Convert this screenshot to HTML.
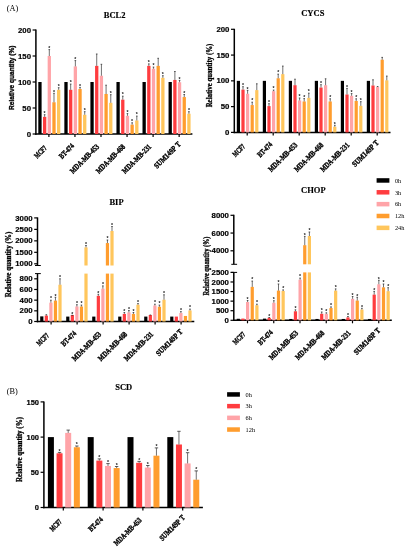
<!DOCTYPE html>
<html><head><meta charset="utf-8"><style>
html,body{margin:0;padding:0;background:#fff;width:407px;height:550px;overflow:hidden}
svg{display:block;will-change:transform}
.tk{font-family:"Liberation Sans",sans-serif;font-weight:bold;fill:#000;stroke:#000;stroke-width:0.2px}
.ti{font-family:"Liberation Serif",serif;font-weight:bold;font-size:8.5px;fill:#000;stroke:#000;stroke-width:0.15px}
.xl{font-family:"Liberation Serif",serif;font-weight:bold;fill:#000;stroke:#000;stroke-width:0.4px}
.yl{font-family:"Liberation Sans",sans-serif;font-weight:bold;fill:#000;stroke:#000;stroke-width:0.3px}
.yls{font-family:"Liberation Serif",serif;font-weight:bold;fill:#000;stroke:#000;stroke-width:0.3px}
.lg{font-family:"Liberation Serif",serif;font-size:6.3px;fill:#000}
.pl{font-family:"Liberation Serif",serif;font-size:8.3px;fill:#000}
.st{font-family:"Liberation Sans",sans-serif;font-size:5.2px;font-weight:bold;fill:#111}
</style></head><body>
<svg width="407" height="550" viewBox="0 0 407 550">
<line x1="35.9" y1="29.5" x2="35.9" y2="134.75" stroke="#000" stroke-width="1.5"/>
<line x1="35.15" y1="134.0" x2="192.4" y2="134.0" stroke="#000" stroke-width="1.5"/>
<line x1="32.6" y1="134.0" x2="35.9" y2="134.0" stroke="#000" stroke-width="1.2"/>
<text transform="translate(31.00,136.60)" text-anchor="end" class="tk" style="font-size:7.8px">0</text>
<line x1="32.6" y1="108.0" x2="35.9" y2="108.0" stroke="#000" stroke-width="1.2"/>
<text transform="translate(31.00,110.60)" text-anchor="end" class="tk" style="font-size:7.8px">50</text>
<line x1="32.6" y1="82.0" x2="35.9" y2="82.0" stroke="#000" stroke-width="1.2"/>
<text transform="translate(31.00,84.60)" text-anchor="end" class="tk" style="font-size:7.8px">100</text>
<line x1="32.6" y1="56.0" x2="35.9" y2="56.0" stroke="#000" stroke-width="1.2"/>
<text transform="translate(31.00,58.60)" text-anchor="end" class="tk" style="font-size:7.8px">150</text>
<line x1="32.6" y1="30.0" x2="35.9" y2="30.0" stroke="#000" stroke-width="1.2"/>
<text transform="translate(31.00,32.60)" text-anchor="end" class="tk" style="font-size:7.8px">200</text>
<line x1="48.9" y1="134.0" x2="48.9" y2="137.0" stroke="#000" stroke-width="1.2"/>
<rect x="38.30" y="82.00" width="3.3" height="52.00" fill="#000000"/>
<rect x="42.98" y="116.84" width="3.3" height="17.16" fill="#FF3C3F"/>
<line x1="44.63" y1="116.84" x2="44.63" y2="114.70" stroke="#333" stroke-width="0.7"/>
<line x1="43.83" y1="114.70" x2="45.43" y2="114.70" stroke="#333" stroke-width="0.8"/>
<text x="44.63" y="114.90" text-anchor="middle" class="st">*</text>
<rect x="47.66" y="56.00" width="3.3" height="78.00" fill="#FFA4A8"/>
<line x1="49.31" y1="56.00" x2="49.31" y2="49.60" stroke="#333" stroke-width="0.7"/>
<line x1="48.51" y1="49.60" x2="50.11" y2="49.60" stroke="#333" stroke-width="0.8"/>
<text x="49.31" y="49.80" text-anchor="middle" class="st">*</text>
<rect x="52.34" y="102.28" width="3.3" height="31.72" fill="#FF9D2E"/>
<line x1="53.99" y1="102.28" x2="53.99" y2="93.30" stroke="#333" stroke-width="0.7"/>
<line x1="53.19" y1="93.30" x2="54.79" y2="93.30" stroke="#333" stroke-width="0.8"/>
<text x="53.99" y="93.50" text-anchor="middle" class="st">*</text>
<rect x="57.02" y="89.80" width="3.3" height="44.20" fill="#FFC65C"/>
<line x1="58.67" y1="89.80" x2="58.67" y2="87.70" stroke="#333" stroke-width="0.7"/>
<line x1="57.87" y1="87.70" x2="59.47" y2="87.70" stroke="#333" stroke-width="0.8"/>
<text x="58.67" y="87.90" text-anchor="middle" class="st">*</text>
<line x1="74.95" y1="134.0" x2="74.95" y2="137.0" stroke="#000" stroke-width="1.2"/>
<rect x="64.35" y="82.00" width="3.3" height="52.00" fill="#000000"/>
<rect x="69.03" y="89.80" width="3.3" height="44.20" fill="#FF3C3F"/>
<line x1="70.68" y1="89.80" x2="70.68" y2="84.10" stroke="#333" stroke-width="0.7"/>
<line x1="69.88" y1="84.10" x2="71.48" y2="84.10" stroke="#333" stroke-width="0.8"/>
<text x="70.68" y="84.30" text-anchor="middle" class="st">*</text>
<rect x="73.71" y="66.40" width="3.3" height="67.60" fill="#FFA4A8"/>
<line x1="75.36" y1="66.40" x2="75.36" y2="60.60" stroke="#333" stroke-width="0.7"/>
<line x1="74.56" y1="60.60" x2="76.16" y2="60.60" stroke="#333" stroke-width="0.8"/>
<text x="75.36" y="60.80" text-anchor="middle" class="st">*</text>
<rect x="78.39" y="89.02" width="3.3" height="44.98" fill="#FF9D2E"/>
<line x1="80.04" y1="89.02" x2="80.04" y2="87.40" stroke="#333" stroke-width="0.7"/>
<line x1="79.24" y1="87.40" x2="80.84" y2="87.40" stroke="#333" stroke-width="0.8"/>
<text x="80.04" y="87.60" text-anchor="middle" class="st">*</text>
<rect x="83.07" y="114.76" width="3.3" height="19.24" fill="#FFC65C"/>
<line x1="84.72" y1="114.76" x2="84.72" y2="111.70" stroke="#333" stroke-width="0.7"/>
<line x1="83.92" y1="111.70" x2="85.52" y2="111.70" stroke="#333" stroke-width="0.8"/>
<text x="84.72" y="111.90" text-anchor="middle" class="st">*</text>
<line x1="101.0" y1="134.0" x2="101.0" y2="137.0" stroke="#000" stroke-width="1.2"/>
<rect x="90.40" y="82.00" width="3.3" height="52.00" fill="#000000"/>
<rect x="95.08" y="65.88" width="3.3" height="68.12" fill="#FF3C3F"/>
<line x1="96.73" y1="65.88" x2="96.73" y2="54.00" stroke="#333" stroke-width="0.7"/>
<line x1="95.93" y1="54.00" x2="97.53" y2="54.00" stroke="#333" stroke-width="0.8"/>
<rect x="99.76" y="75.76" width="3.3" height="58.24" fill="#FFA4A8"/>
<line x1="101.41" y1="75.76" x2="101.41" y2="64.30" stroke="#333" stroke-width="0.7"/>
<line x1="100.61" y1="64.30" x2="102.21" y2="64.30" stroke="#333" stroke-width="0.8"/>
<rect x="104.44" y="93.96" width="3.3" height="40.04" fill="#FF9D2E"/>
<line x1="106.09" y1="93.96" x2="106.09" y2="85.20" stroke="#333" stroke-width="0.7"/>
<line x1="105.29" y1="85.20" x2="106.89" y2="85.20" stroke="#333" stroke-width="0.8"/>
<rect x="109.12" y="102.80" width="3.3" height="31.20" fill="#FFC65C"/>
<line x1="110.77" y1="102.80" x2="110.77" y2="94.70" stroke="#333" stroke-width="0.7"/>
<line x1="109.97" y1="94.70" x2="111.57" y2="94.70" stroke="#333" stroke-width="0.8"/>
<text x="110.77" y="94.90" text-anchor="middle" class="st">*</text>
<line x1="127.05000000000001" y1="134.0" x2="127.05000000000001" y2="137.0" stroke="#000" stroke-width="1.2"/>
<rect x="116.45" y="82.00" width="3.3" height="52.00" fill="#000000"/>
<rect x="121.13" y="99.68" width="3.3" height="34.32" fill="#FF3C3F"/>
<line x1="122.78" y1="99.68" x2="122.78" y2="96.20" stroke="#333" stroke-width="0.7"/>
<line x1="121.98" y1="96.20" x2="123.58" y2="96.20" stroke="#333" stroke-width="0.8"/>
<text x="122.78" y="96.40" text-anchor="middle" class="st">*</text>
<rect x="125.81" y="115.80" width="3.3" height="18.20" fill="#FFA4A8"/>
<line x1="127.46" y1="115.80" x2="127.46" y2="113.60" stroke="#333" stroke-width="0.7"/>
<line x1="126.66" y1="113.60" x2="128.26" y2="113.60" stroke="#333" stroke-width="0.8"/>
<text x="127.46" y="113.80" text-anchor="middle" class="st">*</text>
<rect x="130.49" y="124.64" width="3.3" height="9.36" fill="#FF9D2E"/>
<line x1="132.14" y1="124.64" x2="132.14" y2="122.80" stroke="#333" stroke-width="0.7"/>
<line x1="131.34" y1="122.80" x2="132.94" y2="122.80" stroke="#333" stroke-width="0.8"/>
<text x="132.14" y="123.00" text-anchor="middle" class="st">*</text>
<rect x="135.17" y="120.48" width="3.3" height="13.52" fill="#FFC65C"/>
<line x1="136.82" y1="120.48" x2="136.82" y2="116.10" stroke="#333" stroke-width="0.7"/>
<line x1="136.02" y1="116.10" x2="137.62" y2="116.10" stroke="#333" stroke-width="0.8"/>
<text x="136.82" y="116.30" text-anchor="middle" class="st">*</text>
<line x1="153.1" y1="134.0" x2="153.1" y2="137.0" stroke="#000" stroke-width="1.2"/>
<rect x="142.50" y="82.00" width="3.3" height="52.00" fill="#000000"/>
<rect x="147.18" y="65.88" width="3.3" height="68.12" fill="#FF3C3F"/>
<line x1="148.83" y1="65.88" x2="148.83" y2="63.90" stroke="#333" stroke-width="0.7"/>
<line x1="148.03" y1="63.90" x2="149.63" y2="63.90" stroke="#333" stroke-width="0.8"/>
<text x="148.83" y="64.10" text-anchor="middle" class="st">*</text>
<rect x="151.86" y="68.69" width="3.3" height="65.31" fill="#FFA4A8"/>
<line x1="153.51" y1="68.69" x2="153.51" y2="67.10" stroke="#333" stroke-width="0.7"/>
<line x1="152.71" y1="67.10" x2="154.31" y2="67.10" stroke="#333" stroke-width="0.8"/>
<text x="153.51" y="67.30" text-anchor="middle" class="st">*</text>
<rect x="156.54" y="65.88" width="3.3" height="68.12" fill="#FF9D2E"/>
<line x1="158.19" y1="65.88" x2="158.19" y2="58.30" stroke="#333" stroke-width="0.7"/>
<line x1="157.39" y1="58.30" x2="158.99" y2="58.30" stroke="#333" stroke-width="0.8"/>
<rect x="161.22" y="77.84" width="3.3" height="56.16" fill="#FFC65C"/>
<line x1="162.87" y1="77.84" x2="162.87" y2="75.70" stroke="#333" stroke-width="0.7"/>
<line x1="162.07" y1="75.70" x2="163.67" y2="75.70" stroke="#333" stroke-width="0.8"/>
<text x="162.87" y="75.90" text-anchor="middle" class="st">*</text>
<line x1="179.15" y1="134.0" x2="179.15" y2="137.0" stroke="#000" stroke-width="1.2"/>
<rect x="168.55" y="82.00" width="3.3" height="52.00" fill="#000000"/>
<rect x="173.23" y="79.92" width="3.3" height="54.08" fill="#FF3C3F"/>
<line x1="174.88" y1="79.92" x2="174.88" y2="71.50" stroke="#333" stroke-width="0.7"/>
<line x1="174.08" y1="71.50" x2="175.68" y2="71.50" stroke="#333" stroke-width="0.8"/>
<rect x="177.91" y="82.26" width="3.3" height="51.74" fill="#FFA4A8"/>
<line x1="179.56" y1="82.26" x2="179.56" y2="80.40" stroke="#333" stroke-width="0.7"/>
<line x1="178.76" y1="80.40" x2="180.36" y2="80.40" stroke="#333" stroke-width="0.8"/>
<text x="179.56" y="80.60" text-anchor="middle" class="st">*</text>
<rect x="182.59" y="97.08" width="3.3" height="36.92" fill="#FF9D2E"/>
<line x1="184.24" y1="97.08" x2="184.24" y2="94.50" stroke="#333" stroke-width="0.7"/>
<line x1="183.44" y1="94.50" x2="185.04" y2="94.50" stroke="#333" stroke-width="0.8"/>
<text x="184.24" y="94.70" text-anchor="middle" class="st">*</text>
<rect x="187.27" y="113.72" width="3.3" height="20.28" fill="#FFC65C"/>
<line x1="188.92" y1="113.72" x2="188.92" y2="111.70" stroke="#333" stroke-width="0.7"/>
<line x1="188.12" y1="111.70" x2="189.72" y2="111.70" stroke="#333" stroke-width="0.8"/>
<text x="188.92" y="111.90" text-anchor="middle" class="st">*</text>
<text x="114.6" y="17.7" text-anchor="middle" class="ti">BCL2</text>
<text transform="translate(13.9,77.7) rotate(-90)" text-anchor="middle" class="yl" style="font-size:6.6px" textLength="64.5" lengthAdjust="spacingAndGlyphs">Relative quantity (%)</text>
<line x1="234.3" y1="28.80000000000001" x2="234.3" y2="133.15" stroke="#000" stroke-width="1.5"/>
<line x1="233.55" y1="132.4" x2="390.5" y2="132.4" stroke="#000" stroke-width="1.5"/>
<line x1="231.0" y1="132.4" x2="234.3" y2="132.4" stroke="#000" stroke-width="1.2"/>
<text transform="translate(229.40,135.00)" text-anchor="end" class="tk" style="font-size:7.8px">0</text>
<line x1="231.0" y1="106.625" x2="234.3" y2="106.625" stroke="#000" stroke-width="1.2"/>
<text transform="translate(229.40,109.22)" text-anchor="end" class="tk" style="font-size:7.8px">50</text>
<line x1="231.0" y1="80.85000000000001" x2="234.3" y2="80.85000000000001" stroke="#000" stroke-width="1.2"/>
<text transform="translate(229.40,83.45)" text-anchor="end" class="tk" style="font-size:7.8px">100</text>
<line x1="231.0" y1="55.075" x2="234.3" y2="55.075" stroke="#000" stroke-width="1.2"/>
<text transform="translate(229.40,57.68)" text-anchor="end" class="tk" style="font-size:7.8px">150</text>
<line x1="231.0" y1="29.30000000000001" x2="234.3" y2="29.30000000000001" stroke="#000" stroke-width="1.2"/>
<text transform="translate(229.40,31.90)" text-anchor="end" class="tk" style="font-size:7.8px">200</text>
<line x1="247.2" y1="132.4" x2="247.2" y2="135.4" stroke="#000" stroke-width="1.2"/>
<rect x="236.80" y="80.85" width="3.2" height="51.55" fill="#000000"/>
<rect x="241.40" y="89.61" width="3.2" height="42.79" fill="#FF3C3F"/>
<line x1="243.00" y1="89.61" x2="243.00" y2="86.70" stroke="#333" stroke-width="0.7"/>
<line x1="242.20" y1="86.70" x2="243.80" y2="86.70" stroke="#333" stroke-width="0.8"/>
<text x="243.00" y="86.90" text-anchor="middle" class="st">*</text>
<rect x="246.00" y="93.74" width="3.2" height="38.66" fill="#FFA4A8"/>
<line x1="247.60" y1="93.74" x2="247.60" y2="90.40" stroke="#333" stroke-width="0.7"/>
<line x1="246.80" y1="90.40" x2="248.40" y2="90.40" stroke="#333" stroke-width="0.8"/>
<text x="247.60" y="90.60" text-anchor="middle" class="st">*</text>
<rect x="250.60" y="105.08" width="3.2" height="27.32" fill="#FF9D2E"/>
<line x1="252.20" y1="105.08" x2="252.20" y2="102.20" stroke="#333" stroke-width="0.7"/>
<line x1="251.40" y1="102.20" x2="253.00" y2="102.20" stroke="#333" stroke-width="0.8"/>
<text x="252.20" y="102.40" text-anchor="middle" class="st">*</text>
<rect x="255.20" y="90.13" width="3.2" height="42.27" fill="#FFC65C"/>
<line x1="256.80" y1="90.13" x2="256.80" y2="83.80" stroke="#333" stroke-width="0.7"/>
<line x1="256.00" y1="83.80" x2="257.60" y2="83.80" stroke="#333" stroke-width="0.8"/>
<line x1="273.2" y1="132.4" x2="273.2" y2="135.4" stroke="#000" stroke-width="1.2"/>
<rect x="262.80" y="80.85" width="3.2" height="51.55" fill="#000000"/>
<rect x="267.40" y="106.11" width="3.2" height="26.29" fill="#FF3C3F"/>
<line x1="269.00" y1="106.11" x2="269.00" y2="103.70" stroke="#333" stroke-width="0.7"/>
<line x1="268.20" y1="103.70" x2="269.80" y2="103.70" stroke="#333" stroke-width="0.8"/>
<text x="269.00" y="103.90" text-anchor="middle" class="st">*</text>
<rect x="272.00" y="91.16" width="3.2" height="41.24" fill="#FFA4A8"/>
<line x1="273.60" y1="91.16" x2="273.60" y2="90.10" stroke="#333" stroke-width="0.7"/>
<line x1="272.80" y1="90.10" x2="274.40" y2="90.10" stroke="#333" stroke-width="0.8"/>
<text x="273.60" y="90.30" text-anchor="middle" class="st">*</text>
<rect x="276.60" y="78.27" width="3.2" height="54.13" fill="#FF9D2E"/>
<line x1="278.20" y1="78.27" x2="278.20" y2="74.20" stroke="#333" stroke-width="0.7"/>
<line x1="277.40" y1="74.20" x2="279.00" y2="74.20" stroke="#333" stroke-width="0.8"/>
<text x="278.20" y="74.40" text-anchor="middle" class="st">*</text>
<rect x="281.20" y="74.15" width="3.2" height="58.25" fill="#FFC65C"/>
<line x1="282.80" y1="74.15" x2="282.80" y2="66.10" stroke="#333" stroke-width="0.7"/>
<line x1="282.00" y1="66.10" x2="283.60" y2="66.10" stroke="#333" stroke-width="0.8"/>
<line x1="299.2" y1="132.4" x2="299.2" y2="135.4" stroke="#000" stroke-width="1.2"/>
<rect x="288.80" y="80.85" width="3.2" height="51.55" fill="#000000"/>
<rect x="293.40" y="85.23" width="3.2" height="47.17" fill="#FF3C3F"/>
<line x1="295.00" y1="85.23" x2="295.00" y2="79.20" stroke="#333" stroke-width="0.7"/>
<line x1="294.20" y1="79.20" x2="295.80" y2="79.20" stroke="#333" stroke-width="0.8"/>
<rect x="298.00" y="100.44" width="3.2" height="31.96" fill="#FFA4A8"/>
<line x1="299.60" y1="100.44" x2="299.60" y2="98.00" stroke="#333" stroke-width="0.7"/>
<line x1="298.80" y1="98.00" x2="300.40" y2="98.00" stroke="#333" stroke-width="0.8"/>
<text x="299.60" y="98.20" text-anchor="middle" class="st">*</text>
<rect x="302.60" y="101.47" width="3.2" height="30.93" fill="#FF9D2E"/>
<line x1="304.20" y1="101.47" x2="304.20" y2="98.60" stroke="#333" stroke-width="0.7"/>
<line x1="303.40" y1="98.60" x2="305.00" y2="98.60" stroke="#333" stroke-width="0.8"/>
<text x="304.20" y="98.80" text-anchor="middle" class="st">*</text>
<rect x="307.20" y="97.86" width="3.2" height="34.54" fill="#FFC65C"/>
<line x1="308.80" y1="97.86" x2="308.80" y2="93.20" stroke="#333" stroke-width="0.7"/>
<line x1="308.00" y1="93.20" x2="309.60" y2="93.20" stroke="#333" stroke-width="0.8"/>
<text x="308.80" y="93.40" text-anchor="middle" class="st">*</text>
<line x1="325.2" y1="132.4" x2="325.2" y2="135.4" stroke="#000" stroke-width="1.2"/>
<rect x="314.80" y="80.85" width="3.2" height="51.55" fill="#000000"/>
<rect x="319.40" y="87.55" width="3.2" height="44.85" fill="#FF3C3F"/>
<line x1="321.00" y1="87.55" x2="321.00" y2="84.70" stroke="#333" stroke-width="0.7"/>
<line x1="320.20" y1="84.70" x2="321.80" y2="84.70" stroke="#333" stroke-width="0.8"/>
<text x="321.00" y="84.90" text-anchor="middle" class="st">*</text>
<rect x="324.00" y="85.23" width="3.2" height="47.17" fill="#FFA4A8"/>
<line x1="325.60" y1="85.23" x2="325.60" y2="78.80" stroke="#333" stroke-width="0.7"/>
<line x1="324.80" y1="78.80" x2="326.40" y2="78.80" stroke="#333" stroke-width="0.8"/>
<rect x="328.60" y="101.47" width="3.2" height="30.93" fill="#FF9D2E"/>
<line x1="330.20" y1="101.47" x2="330.20" y2="98.80" stroke="#333" stroke-width="0.7"/>
<line x1="329.40" y1="98.80" x2="331.00" y2="98.80" stroke="#333" stroke-width="0.8"/>
<text x="330.20" y="99.00" text-anchor="middle" class="st">*</text>
<rect x="333.20" y="126.73" width="3.2" height="5.67" fill="#FFC65C"/>
<line x1="334.80" y1="126.73" x2="334.80" y2="125.30" stroke="#333" stroke-width="0.7"/>
<line x1="334.00" y1="125.30" x2="335.60" y2="125.30" stroke="#333" stroke-width="0.8"/>
<text x="334.80" y="125.50" text-anchor="middle" class="st">*</text>
<line x1="351.2" y1="132.4" x2="351.2" y2="135.4" stroke="#000" stroke-width="1.2"/>
<rect x="340.80" y="80.85" width="3.2" height="51.55" fill="#000000"/>
<rect x="345.40" y="94.51" width="3.2" height="37.89" fill="#FF3C3F"/>
<line x1="347.00" y1="94.51" x2="347.00" y2="88.40" stroke="#333" stroke-width="0.7"/>
<line x1="346.20" y1="88.40" x2="347.80" y2="88.40" stroke="#333" stroke-width="0.8"/>
<text x="347.00" y="88.60" text-anchor="middle" class="st">*</text>
<rect x="350.00" y="95.80" width="3.2" height="36.60" fill="#FFA4A8"/>
<line x1="351.60" y1="95.80" x2="351.60" y2="93.60" stroke="#333" stroke-width="0.7"/>
<line x1="350.80" y1="93.60" x2="352.40" y2="93.60" stroke="#333" stroke-width="0.8"/>
<text x="351.60" y="93.80" text-anchor="middle" class="st">*</text>
<rect x="354.60" y="100.95" width="3.2" height="31.45" fill="#FF9D2E"/>
<line x1="356.20" y1="100.95" x2="356.20" y2="98.80" stroke="#333" stroke-width="0.7"/>
<line x1="355.40" y1="98.80" x2="357.00" y2="98.80" stroke="#333" stroke-width="0.8"/>
<text x="356.20" y="99.00" text-anchor="middle" class="st">*</text>
<rect x="359.20" y="105.85" width="3.2" height="26.55" fill="#FFC65C"/>
<line x1="360.80" y1="105.85" x2="360.80" y2="101.70" stroke="#333" stroke-width="0.7"/>
<line x1="360.00" y1="101.70" x2="361.60" y2="101.70" stroke="#333" stroke-width="0.8"/>
<text x="360.80" y="101.90" text-anchor="middle" class="st">*</text>
<line x1="377.2" y1="132.4" x2="377.2" y2="135.4" stroke="#000" stroke-width="1.2"/>
<rect x="366.80" y="80.85" width="3.2" height="51.55" fill="#000000"/>
<rect x="371.40" y="85.49" width="3.2" height="46.91" fill="#FF3C3F"/>
<line x1="373.00" y1="85.49" x2="373.00" y2="79.80" stroke="#333" stroke-width="0.7"/>
<line x1="372.20" y1="79.80" x2="373.80" y2="79.80" stroke="#333" stroke-width="0.8"/>
<rect x="376.00" y="87.04" width="3.2" height="45.36" fill="#FFA4A8"/>
<line x1="377.60" y1="87.04" x2="377.60" y2="86.50" stroke="#333" stroke-width="0.7"/>
<line x1="376.80" y1="86.50" x2="378.40" y2="86.50" stroke="#333" stroke-width="0.8"/>
<rect x="380.60" y="59.71" width="3.2" height="72.69" fill="#FF9D2E"/>
<line x1="382.20" y1="59.71" x2="382.20" y2="57.40" stroke="#333" stroke-width="0.7"/>
<line x1="381.40" y1="57.40" x2="383.00" y2="57.40" stroke="#333" stroke-width="0.8"/>
<rect x="385.20" y="80.33" width="3.2" height="52.07" fill="#FFC65C"/>
<line x1="386.80" y1="80.33" x2="386.80" y2="76.10" stroke="#333" stroke-width="0.7"/>
<line x1="386.00" y1="76.10" x2="387.60" y2="76.10" stroke="#333" stroke-width="0.8"/>
<text x="312.8" y="16.2" text-anchor="middle" class="ti">CYCS</text>
<text transform="translate(211.5,75.5) rotate(-90)" text-anchor="middle" class="yls" style="font-size:7.3px" textLength="63.7" lengthAdjust="spacingAndGlyphs">Relative quantity (%)</text>
<line x1="37.5" y1="217.4" x2="37.5" y2="265.5" stroke="#000" stroke-width="1.5"/>
<line x1="35.0" y1="265.5" x2="40.8" y2="265.5" stroke="#000" stroke-width="1"/>
<line x1="37.5" y1="273.6" x2="37.5" y2="322.25" stroke="#000" stroke-width="1.5"/>
<line x1="35.0" y1="273.6" x2="40.8" y2="273.6" stroke="#000" stroke-width="1"/>
<line x1="36.75" y1="321.5" x2="194.3" y2="321.5" stroke="#000" stroke-width="1.5"/>
<line x1="34.2" y1="321.5" x2="37.5" y2="321.5" stroke="#000" stroke-width="1.2"/>
<text transform="translate(32.60,324.10)" text-anchor="end" class="tk" style="font-size:7.8px">0</text>
<line x1="34.2" y1="310.825" x2="37.5" y2="310.825" stroke="#000" stroke-width="1.2"/>
<text transform="translate(32.60,313.43)" text-anchor="end" class="tk" style="font-size:7.8px">200</text>
<line x1="34.2" y1="300.15" x2="37.5" y2="300.15" stroke="#000" stroke-width="1.2"/>
<text transform="translate(32.60,302.75)" text-anchor="end" class="tk" style="font-size:7.8px">400</text>
<line x1="34.2" y1="289.475" x2="37.5" y2="289.475" stroke="#000" stroke-width="1.2"/>
<text transform="translate(32.60,292.08)" text-anchor="end" class="tk" style="font-size:7.8px">600</text>
<line x1="34.2" y1="278.8" x2="37.5" y2="278.8" stroke="#000" stroke-width="1.2"/>
<text transform="translate(32.60,281.40)" text-anchor="end" class="tk" style="font-size:7.8px">800</text>
<line x1="34.2" y1="263.8" x2="37.5" y2="263.8" stroke="#000" stroke-width="1.2"/>
<text transform="translate(32.60,266.40)" text-anchor="end" class="tk" style="font-size:7.8px">1000</text>
<line x1="34.2" y1="252.32500000000002" x2="37.5" y2="252.32500000000002" stroke="#000" stroke-width="1.2"/>
<text transform="translate(32.60,254.93)" text-anchor="end" class="tk" style="font-size:7.8px">1500</text>
<line x1="34.2" y1="240.85000000000002" x2="37.5" y2="240.85000000000002" stroke="#000" stroke-width="1.2"/>
<text transform="translate(32.60,243.45)" text-anchor="end" class="tk" style="font-size:7.8px">2000</text>
<line x1="34.2" y1="229.375" x2="37.5" y2="229.375" stroke="#000" stroke-width="1.2"/>
<text transform="translate(32.60,231.97)" text-anchor="end" class="tk" style="font-size:7.8px">2500</text>
<line x1="34.2" y1="217.9" x2="37.5" y2="217.9" stroke="#000" stroke-width="1.2"/>
<text transform="translate(32.60,220.50)" text-anchor="end" class="tk" style="font-size:7.8px">3000</text>
<line x1="51.1" y1="321.5" x2="51.1" y2="324.5" stroke="#000" stroke-width="1.2"/>
<rect x="40.20" y="316.38" width="3.2" height="5.12" fill="#000000"/>
<rect x="44.75" y="315.58" width="3.2" height="5.92" fill="#FF3C3F"/>
<line x1="46.35" y1="315.58" x2="46.35" y2="314.70" stroke="#333" stroke-width="0.7"/>
<line x1="45.55" y1="314.70" x2="47.15" y2="314.70" stroke="#333" stroke-width="0.8"/>
<rect x="49.30" y="302.66" width="3.2" height="18.84" fill="#FFA4A8"/>
<line x1="50.90" y1="302.66" x2="50.90" y2="300.20" stroke="#333" stroke-width="0.7"/>
<line x1="50.10" y1="300.20" x2="51.70" y2="300.20" stroke="#333" stroke-width="0.8"/>
<text x="50.90" y="300.40" text-anchor="middle" class="st">*</text>
<rect x="53.85" y="300.58" width="3.2" height="20.92" fill="#FF9D2E"/>
<line x1="55.45" y1="300.58" x2="55.45" y2="297.30" stroke="#333" stroke-width="0.7"/>
<line x1="54.65" y1="297.30" x2="56.25" y2="297.30" stroke="#333" stroke-width="0.8"/>
<text x="55.45" y="297.50" text-anchor="middle" class="st">*</text>
<rect x="58.40" y="284.72" width="3.2" height="36.78" fill="#FFC65C"/>
<line x1="60.00" y1="284.72" x2="60.00" y2="278.80" stroke="#333" stroke-width="0.7"/>
<line x1="59.20" y1="278.80" x2="60.80" y2="278.80" stroke="#333" stroke-width="0.8"/>
<text x="60.00" y="279.00" text-anchor="middle" class="st">*</text>
<line x1="77.1" y1="321.5" x2="77.1" y2="324.5" stroke="#000" stroke-width="1.2"/>
<rect x="66.20" y="316.59" width="3.2" height="4.91" fill="#000000"/>
<rect x="70.75" y="314.99" width="3.2" height="6.51" fill="#FF3C3F"/>
<line x1="72.35" y1="314.99" x2="72.35" y2="315.30" stroke="#333" stroke-width="0.7"/>
<line x1="71.55" y1="315.30" x2="73.15" y2="315.30" stroke="#333" stroke-width="0.8"/>
<text x="72.35" y="315.50" text-anchor="middle" class="st">*</text>
<rect x="75.30" y="306.50" width="3.2" height="15.00" fill="#FFA4A8"/>
<line x1="76.90" y1="306.50" x2="76.90" y2="304.70" stroke="#333" stroke-width="0.7"/>
<line x1="76.10" y1="304.70" x2="77.70" y2="304.70" stroke="#333" stroke-width="0.8"/>
<text x="76.90" y="304.90" text-anchor="middle" class="st">*</text>
<rect x="79.85" y="306.50" width="3.2" height="15.00" fill="#FF9D2E"/>
<line x1="81.45" y1="306.50" x2="81.45" y2="305.10" stroke="#333" stroke-width="0.7"/>
<line x1="80.65" y1="305.10" x2="82.25" y2="305.10" stroke="#333" stroke-width="0.8"/>
<text x="81.45" y="305.30" text-anchor="middle" class="st">*</text>
<rect x="84.40" y="247.39" width="3.2" height="18.11" fill="#FFC65C"/>
<rect x="84.40" y="273.60" width="3.2" height="47.90" fill="#FFC65C"/>
<line x1="86.00" y1="247.39" x2="86.00" y2="245.50" stroke="#333" stroke-width="0.7"/>
<line x1="85.20" y1="245.50" x2="86.80" y2="245.50" stroke="#333" stroke-width="0.8"/>
<text x="86.00" y="245.70" text-anchor="middle" class="st">*</text>
<line x1="103.1" y1="321.5" x2="103.1" y2="324.5" stroke="#000" stroke-width="1.2"/>
<rect x="92.20" y="316.59" width="3.2" height="4.91" fill="#000000"/>
<rect x="96.75" y="295.83" width="3.2" height="25.67" fill="#FF3C3F"/>
<line x1="98.35" y1="295.83" x2="98.35" y2="294.30" stroke="#333" stroke-width="0.7"/>
<line x1="97.55" y1="294.30" x2="99.15" y2="294.30" stroke="#333" stroke-width="0.8"/>
<text x="98.35" y="294.50" text-anchor="middle" class="st">*</text>
<rect x="101.30" y="288.67" width="3.2" height="32.83" fill="#FFA4A8"/>
<line x1="102.90" y1="288.67" x2="102.90" y2="285.90" stroke="#333" stroke-width="0.7"/>
<line x1="102.10" y1="285.90" x2="103.70" y2="285.90" stroke="#333" stroke-width="0.8"/>
<text x="102.90" y="286.10" text-anchor="middle" class="st">*</text>
<rect x="105.85" y="243.08" width="3.2" height="22.42" fill="#FF9D2E"/>
<rect x="105.85" y="273.60" width="3.2" height="47.90" fill="#FF9D2E"/>
<line x1="107.45" y1="243.08" x2="107.45" y2="240.00" stroke="#333" stroke-width="0.7"/>
<line x1="106.65" y1="240.00" x2="108.25" y2="240.00" stroke="#333" stroke-width="0.8"/>
<text x="107.45" y="240.20" text-anchor="middle" class="st">*</text>
<rect x="110.40" y="230.98" width="3.2" height="34.52" fill="#FFC65C"/>
<rect x="110.40" y="273.60" width="3.2" height="47.90" fill="#FFC65C"/>
<line x1="112.00" y1="230.98" x2="112.00" y2="226.50" stroke="#333" stroke-width="0.7"/>
<line x1="111.20" y1="226.50" x2="112.80" y2="226.50" stroke="#333" stroke-width="0.8"/>
<text x="112.00" y="226.70" text-anchor="middle" class="st">*</text>
<line x1="129.1" y1="321.5" x2="129.1" y2="324.5" stroke="#000" stroke-width="1.2"/>
<rect x="118.20" y="316.59" width="3.2" height="4.91" fill="#000000"/>
<rect x="122.75" y="313.92" width="3.2" height="7.58" fill="#FF3C3F"/>
<line x1="124.35" y1="313.92" x2="124.35" y2="312.50" stroke="#333" stroke-width="0.7"/>
<line x1="123.55" y1="312.50" x2="125.15" y2="312.50" stroke="#333" stroke-width="0.8"/>
<text x="124.35" y="312.70" text-anchor="middle" class="st">*</text>
<rect x="127.30" y="312.43" width="3.2" height="9.07" fill="#FFA4A8"/>
<line x1="128.90" y1="312.43" x2="128.90" y2="310.50" stroke="#333" stroke-width="0.7"/>
<line x1="128.10" y1="310.50" x2="129.70" y2="310.50" stroke="#333" stroke-width="0.8"/>
<text x="128.90" y="310.70" text-anchor="middle" class="st">*</text>
<rect x="131.85" y="313.92" width="3.2" height="7.58" fill="#FF9D2E"/>
<line x1="133.45" y1="313.92" x2="133.45" y2="312.50" stroke="#333" stroke-width="0.7"/>
<line x1="132.65" y1="312.50" x2="134.25" y2="312.50" stroke="#333" stroke-width="0.8"/>
<text x="133.45" y="312.70" text-anchor="middle" class="st">*</text>
<rect x="136.40" y="304.69" width="3.2" height="16.81" fill="#FFC65C"/>
<line x1="138.00" y1="304.69" x2="138.00" y2="303.60" stroke="#333" stroke-width="0.7"/>
<line x1="137.20" y1="303.60" x2="138.80" y2="303.60" stroke="#333" stroke-width="0.8"/>
<text x="138.00" y="303.80" text-anchor="middle" class="st">*</text>
<line x1="155.1" y1="321.5" x2="155.1" y2="324.5" stroke="#000" stroke-width="1.2"/>
<rect x="144.20" y="316.59" width="3.2" height="4.91" fill="#000000"/>
<rect x="148.75" y="314.99" width="3.2" height="6.51" fill="#FF3C3F"/>
<line x1="150.35" y1="314.99" x2="150.35" y2="315.00" stroke="#333" stroke-width="0.7"/>
<line x1="149.55" y1="315.00" x2="151.15" y2="315.00" stroke="#333" stroke-width="0.8"/>
<rect x="153.30" y="305.49" width="3.2" height="16.01" fill="#FFA4A8"/>
<line x1="154.90" y1="305.49" x2="154.90" y2="304.20" stroke="#333" stroke-width="0.7"/>
<line x1="154.10" y1="304.20" x2="155.70" y2="304.20" stroke="#333" stroke-width="0.8"/>
<text x="154.90" y="304.40" text-anchor="middle" class="st">*</text>
<rect x="157.85" y="306.72" width="3.2" height="14.78" fill="#FF9D2E"/>
<line x1="159.45" y1="306.72" x2="159.45" y2="305.10" stroke="#333" stroke-width="0.7"/>
<line x1="158.65" y1="305.10" x2="160.25" y2="305.10" stroke="#333" stroke-width="0.8"/>
<text x="159.45" y="305.30" text-anchor="middle" class="st">*</text>
<rect x="162.40" y="299.72" width="3.2" height="21.78" fill="#FFC65C"/>
<line x1="164.00" y1="299.72" x2="164.00" y2="294.80" stroke="#333" stroke-width="0.7"/>
<line x1="163.20" y1="294.80" x2="164.80" y2="294.80" stroke="#333" stroke-width="0.8"/>
<text x="164.00" y="295.00" text-anchor="middle" class="st">*</text>
<line x1="181.1" y1="321.5" x2="181.1" y2="324.5" stroke="#000" stroke-width="1.2"/>
<rect x="170.20" y="316.59" width="3.2" height="4.91" fill="#000000"/>
<rect x="174.75" y="316.59" width="3.2" height="4.91" fill="#FF3C3F"/>
<rect x="179.30" y="312.96" width="3.2" height="8.54" fill="#FFA4A8"/>
<line x1="180.90" y1="312.96" x2="180.90" y2="311.60" stroke="#333" stroke-width="0.7"/>
<line x1="180.10" y1="311.60" x2="181.70" y2="311.60" stroke="#333" stroke-width="0.8"/>
<text x="180.90" y="311.80" text-anchor="middle" class="st">*</text>
<rect x="183.85" y="315.95" width="3.2" height="5.55" fill="#FF9D2E"/>
<rect x="188.40" y="310.45" width="3.2" height="11.05" fill="#FFC65C"/>
<line x1="190.00" y1="310.45" x2="190.00" y2="309.10" stroke="#333" stroke-width="0.7"/>
<line x1="189.20" y1="309.10" x2="190.80" y2="309.10" stroke="#333" stroke-width="0.8"/>
<text x="190.00" y="309.30" text-anchor="middle" class="st">*</text>
<text x="116.5" y="205.1" text-anchor="middle" class="ti">BIP</text>
<text transform="translate(11.3,264.5) rotate(-90)" text-anchor="middle" class="yls" style="font-size:7.3px" textLength="65.5" lengthAdjust="spacingAndGlyphs">Relative quantity (%)</text>
<line x1="233.8" y1="214.8" x2="233.8" y2="264.3" stroke="#000" stroke-width="1.5"/>
<line x1="231.3" y1="264.3" x2="237.10000000000002" y2="264.3" stroke="#000" stroke-width="1"/>
<line x1="233.8" y1="272.4" x2="233.8" y2="321.05" stroke="#000" stroke-width="1.5"/>
<line x1="231.3" y1="272.4" x2="237.10000000000002" y2="272.4" stroke="#000" stroke-width="1"/>
<line x1="233.05" y1="320.3" x2="391.8" y2="320.3" stroke="#000" stroke-width="1.5"/>
<line x1="230.5" y1="320.3" x2="233.8" y2="320.3" stroke="#000" stroke-width="1.2"/>
<text transform="translate(228.90,322.90)" text-anchor="end" class="tk" style="font-size:7.8px">0</text>
<line x1="230.5" y1="310.72" x2="233.8" y2="310.72" stroke="#000" stroke-width="1.2"/>
<text transform="translate(228.90,313.32)" text-anchor="end" class="tk" style="font-size:7.8px">500</text>
<line x1="230.5" y1="301.14" x2="233.8" y2="301.14" stroke="#000" stroke-width="1.2"/>
<text transform="translate(228.90,303.74)" text-anchor="end" class="tk" style="font-size:7.8px">1000</text>
<line x1="230.5" y1="291.56" x2="233.8" y2="291.56" stroke="#000" stroke-width="1.2"/>
<text transform="translate(228.90,294.16)" text-anchor="end" class="tk" style="font-size:7.8px">1500</text>
<line x1="230.5" y1="281.97999999999996" x2="233.8" y2="281.97999999999996" stroke="#000" stroke-width="1.2"/>
<text transform="translate(228.90,284.58)" text-anchor="end" class="tk" style="font-size:7.8px">2000</text>
<line x1="230.5" y1="272.4" x2="233.8" y2="272.4" stroke="#000" stroke-width="1.2"/>
<text transform="translate(228.90,275.00)" text-anchor="end" class="tk" style="font-size:7.8px">2500</text>
<line x1="230.5" y1="250.8" x2="233.8" y2="250.8" stroke="#000" stroke-width="1.2"/>
<text transform="translate(228.90,253.40)" text-anchor="end" class="tk" style="font-size:7.8px">4000</text>
<line x1="230.5" y1="233.05" x2="233.8" y2="233.05" stroke="#000" stroke-width="1.2"/>
<text transform="translate(228.90,235.65)" text-anchor="end" class="tk" style="font-size:7.8px">6000</text>
<line x1="230.5" y1="215.3" x2="233.8" y2="215.3" stroke="#000" stroke-width="1.2"/>
<text transform="translate(228.90,217.90)" text-anchor="end" class="tk" style="font-size:7.8px">8000</text>
<line x1="247.5" y1="320.3" x2="247.5" y2="323.3" stroke="#000" stroke-width="1.2"/>
<rect x="236.70" y="318.77" width="3.2" height="1.53" fill="#000000"/>
<rect x="241.35" y="318.58" width="3.2" height="1.72" fill="#FF3C3F"/>
<rect x="246.00" y="302.00" width="3.2" height="18.30" fill="#FFA4A8"/>
<line x1="247.60" y1="302.00" x2="247.60" y2="300.50" stroke="#333" stroke-width="0.7"/>
<line x1="246.80" y1="300.50" x2="248.40" y2="300.50" stroke="#333" stroke-width="0.8"/>
<text x="247.60" y="300.70" text-anchor="middle" class="st">*</text>
<rect x="250.65" y="286.87" width="3.2" height="33.43" fill="#FF9D2E"/>
<line x1="252.25" y1="286.87" x2="252.25" y2="281.10" stroke="#333" stroke-width="0.7"/>
<line x1="251.45" y1="281.10" x2="253.05" y2="281.10" stroke="#333" stroke-width="0.8"/>
<text x="252.25" y="281.30" text-anchor="middle" class="st">*</text>
<rect x="255.30" y="305.26" width="3.2" height="15.04" fill="#FFC65C"/>
<line x1="256.90" y1="305.26" x2="256.90" y2="304.20" stroke="#333" stroke-width="0.7"/>
<line x1="256.10" y1="304.20" x2="257.70" y2="304.20" stroke="#333" stroke-width="0.8"/>
<text x="256.90" y="304.40" text-anchor="middle" class="st">*</text>
<line x1="273.75" y1="320.3" x2="273.75" y2="323.3" stroke="#000" stroke-width="1.2"/>
<rect x="262.95" y="318.63" width="3.2" height="1.67" fill="#000000"/>
<rect x="267.60" y="317.81" width="3.2" height="2.49" fill="#FF3C3F"/>
<line x1="269.20" y1="317.81" x2="269.20" y2="317.50" stroke="#333" stroke-width="0.7"/>
<line x1="268.40" y1="317.50" x2="270.00" y2="317.50" stroke="#333" stroke-width="0.8"/>
<text x="269.20" y="317.70" text-anchor="middle" class="st">*</text>
<rect x="272.25" y="302.77" width="3.2" height="17.53" fill="#FFA4A8"/>
<line x1="273.85" y1="302.77" x2="273.85" y2="300.70" stroke="#333" stroke-width="0.7"/>
<line x1="273.05" y1="300.70" x2="274.65" y2="300.70" stroke="#333" stroke-width="0.8"/>
<text x="273.85" y="300.90" text-anchor="middle" class="st">*</text>
<rect x="276.90" y="290.60" width="3.2" height="29.70" fill="#FF9D2E"/>
<line x1="278.50" y1="290.60" x2="278.50" y2="284.00" stroke="#333" stroke-width="0.7"/>
<line x1="277.70" y1="284.00" x2="279.30" y2="284.00" stroke="#333" stroke-width="0.8"/>
<text x="278.50" y="284.20" text-anchor="middle" class="st">*</text>
<rect x="281.55" y="290.99" width="3.2" height="29.31" fill="#FFC65C"/>
<line x1="283.15" y1="290.99" x2="283.15" y2="289.90" stroke="#333" stroke-width="0.7"/>
<line x1="282.35" y1="289.90" x2="283.95" y2="289.90" stroke="#333" stroke-width="0.8"/>
<text x="283.15" y="290.10" text-anchor="middle" class="st">*</text>
<line x1="300.0" y1="320.3" x2="300.0" y2="323.3" stroke="#000" stroke-width="1.2"/>
<rect x="289.20" y="318.96" width="3.2" height="1.34" fill="#000000"/>
<rect x="293.85" y="311.29" width="3.2" height="9.01" fill="#FF3C3F"/>
<line x1="295.45" y1="311.29" x2="295.45" y2="309.80" stroke="#333" stroke-width="0.7"/>
<line x1="294.65" y1="309.80" x2="296.25" y2="309.80" stroke="#333" stroke-width="0.8"/>
<text x="295.45" y="310.00" text-anchor="middle" class="st">*</text>
<rect x="298.50" y="279.68" width="3.2" height="40.62" fill="#FFA4A8"/>
<line x1="300.10" y1="279.68" x2="300.10" y2="278.10" stroke="#333" stroke-width="0.7"/>
<line x1="299.30" y1="278.10" x2="300.90" y2="278.10" stroke="#333" stroke-width="0.8"/>
<text x="300.10" y="278.30" text-anchor="middle" class="st">*</text>
<rect x="303.15" y="245.20" width="3.2" height="19.10" fill="#FF9D2E"/>
<rect x="303.15" y="272.40" width="3.2" height="47.90" fill="#FF9D2E"/>
<line x1="304.75" y1="245.20" x2="304.75" y2="236.40" stroke="#333" stroke-width="0.7"/>
<line x1="303.95" y1="236.40" x2="305.55" y2="236.40" stroke="#333" stroke-width="0.8"/>
<text x="304.75" y="236.60" text-anchor="middle" class="st">*</text>
<rect x="307.80" y="236.00" width="3.2" height="28.30" fill="#FFC65C"/>
<rect x="307.80" y="272.40" width="3.2" height="47.90" fill="#FFC65C"/>
<line x1="309.40" y1="236.00" x2="309.40" y2="232.00" stroke="#333" stroke-width="0.7"/>
<line x1="308.60" y1="232.00" x2="310.20" y2="232.00" stroke="#333" stroke-width="0.8"/>
<text x="309.40" y="232.20" text-anchor="middle" class="st">*</text>
<line x1="326.25" y1="320.3" x2="326.25" y2="323.3" stroke="#000" stroke-width="1.2"/>
<rect x="315.45" y="318.96" width="3.2" height="1.34" fill="#000000"/>
<rect x="320.10" y="313.79" width="3.2" height="6.51" fill="#FF3C3F"/>
<line x1="321.70" y1="313.79" x2="321.70" y2="312.00" stroke="#333" stroke-width="0.7"/>
<line x1="320.90" y1="312.00" x2="322.50" y2="312.00" stroke="#333" stroke-width="0.8"/>
<text x="321.70" y="312.20" text-anchor="middle" class="st">*</text>
<rect x="324.75" y="313.79" width="3.2" height="6.51" fill="#FFA4A8"/>
<line x1="326.35" y1="313.79" x2="326.35" y2="312.80" stroke="#333" stroke-width="0.7"/>
<line x1="325.55" y1="312.80" x2="327.15" y2="312.80" stroke="#333" stroke-width="0.8"/>
<text x="326.35" y="313.00" text-anchor="middle" class="st">*</text>
<rect x="329.40" y="308.04" width="3.2" height="12.26" fill="#FF9D2E"/>
<line x1="331.00" y1="308.04" x2="331.00" y2="306.90" stroke="#333" stroke-width="0.7"/>
<line x1="330.20" y1="306.90" x2="331.80" y2="306.90" stroke="#333" stroke-width="0.8"/>
<text x="331.00" y="307.10" text-anchor="middle" class="st">*</text>
<rect x="334.05" y="290.60" width="3.2" height="29.70" fill="#FFC65C"/>
<line x1="335.65" y1="290.60" x2="335.65" y2="288.90" stroke="#333" stroke-width="0.7"/>
<line x1="334.85" y1="288.90" x2="336.45" y2="288.90" stroke="#333" stroke-width="0.8"/>
<text x="335.65" y="289.10" text-anchor="middle" class="st">*</text>
<line x1="352.5" y1="320.3" x2="352.5" y2="323.3" stroke="#000" stroke-width="1.2"/>
<rect x="341.70" y="318.96" width="3.2" height="1.34" fill="#000000"/>
<rect x="346.35" y="317.43" width="3.2" height="2.87" fill="#FF3C3F"/>
<line x1="347.95" y1="317.43" x2="347.95" y2="316.50" stroke="#333" stroke-width="0.7"/>
<line x1="347.15" y1="316.50" x2="348.75" y2="316.50" stroke="#333" stroke-width="0.8"/>
<text x="347.95" y="316.70" text-anchor="middle" class="st">*</text>
<rect x="351.00" y="298.84" width="3.2" height="21.46" fill="#FFA4A8"/>
<line x1="352.60" y1="298.84" x2="352.60" y2="296.50" stroke="#333" stroke-width="0.7"/>
<line x1="351.80" y1="296.50" x2="353.40" y2="296.50" stroke="#333" stroke-width="0.8"/>
<text x="352.60" y="296.70" text-anchor="middle" class="st">*</text>
<rect x="355.65" y="300.57" width="3.2" height="19.73" fill="#FF9D2E"/>
<line x1="357.25" y1="300.57" x2="357.25" y2="297.30" stroke="#333" stroke-width="0.7"/>
<line x1="356.45" y1="297.30" x2="358.05" y2="297.30" stroke="#333" stroke-width="0.8"/>
<text x="357.25" y="297.50" text-anchor="middle" class="st">*</text>
<rect x="360.30" y="309.57" width="3.2" height="10.73" fill="#FFC65C"/>
<line x1="361.90" y1="309.57" x2="361.90" y2="308.30" stroke="#333" stroke-width="0.7"/>
<line x1="361.10" y1="308.30" x2="362.70" y2="308.30" stroke="#333" stroke-width="0.8"/>
<text x="361.90" y="308.50" text-anchor="middle" class="st">*</text>
<line x1="378.75" y1="320.3" x2="378.75" y2="323.3" stroke="#000" stroke-width="1.2"/>
<rect x="367.95" y="318.96" width="3.2" height="1.34" fill="#000000"/>
<rect x="372.60" y="294.63" width="3.2" height="25.67" fill="#FF3C3F"/>
<line x1="374.20" y1="294.63" x2="374.20" y2="291.40" stroke="#333" stroke-width="0.7"/>
<line x1="373.40" y1="291.40" x2="375.00" y2="291.40" stroke="#333" stroke-width="0.8"/>
<text x="374.20" y="291.60" text-anchor="middle" class="st">*</text>
<rect x="377.25" y="284.28" width="3.2" height="36.02" fill="#FFA4A8"/>
<line x1="378.85" y1="284.28" x2="378.85" y2="280.30" stroke="#333" stroke-width="0.7"/>
<line x1="378.05" y1="280.30" x2="379.65" y2="280.30" stroke="#333" stroke-width="0.8"/>
<text x="378.85" y="280.50" text-anchor="middle" class="st">*</text>
<rect x="381.90" y="287.34" width="3.2" height="32.96" fill="#FF9D2E"/>
<line x1="383.50" y1="287.34" x2="383.50" y2="284.00" stroke="#333" stroke-width="0.7"/>
<line x1="382.70" y1="284.00" x2="384.30" y2="284.00" stroke="#333" stroke-width="0.8"/>
<text x="383.50" y="284.20" text-anchor="middle" class="st">*</text>
<rect x="386.55" y="291.18" width="3.2" height="29.12" fill="#FFC65C"/>
<line x1="388.15" y1="291.18" x2="388.15" y2="287.70" stroke="#333" stroke-width="0.7"/>
<line x1="387.35" y1="287.70" x2="388.95" y2="287.70" stroke="#333" stroke-width="0.8"/>
<text x="388.15" y="287.90" text-anchor="middle" class="st">*</text>
<text x="313.4" y="192.8" text-anchor="middle" class="ti">CHOP</text>
<text transform="translate(208.6,266) rotate(-90)" text-anchor="middle" class="yls" style="font-size:7.3px" textLength="59" lengthAdjust="spacingAndGlyphs">Relative quantity (%)</text>
<line x1="43.9" y1="401.4" x2="43.9" y2="508.25" stroke="#000" stroke-width="1.5"/>
<line x1="43.15" y1="507.5" x2="202.9" y2="507.5" stroke="#000" stroke-width="1.5"/>
<line x1="40.6" y1="507.5" x2="43.9" y2="507.5" stroke="#000" stroke-width="1.2"/>
<text transform="translate(39.00,510.10)" text-anchor="end" class="tk" style="font-size:7.5px">0</text>
<line x1="40.6" y1="472.3" x2="43.9" y2="472.3" stroke="#000" stroke-width="1.2"/>
<text transform="translate(39.00,474.90)" text-anchor="end" class="tk" style="font-size:7.5px">50</text>
<line x1="40.6" y1="437.1" x2="43.9" y2="437.1" stroke="#000" stroke-width="1.2"/>
<text transform="translate(39.00,439.70)" text-anchor="end" class="tk" style="font-size:7.5px">100</text>
<line x1="40.6" y1="401.9" x2="43.9" y2="401.9" stroke="#000" stroke-width="1.2"/>
<text transform="translate(39.00,404.50)" text-anchor="end" class="tk" style="font-size:7.5px">150</text>
<line x1="63.3" y1="507.5" x2="63.3" y2="510.5" stroke="#000" stroke-width="1.2"/>
<rect x="47.90" y="437.10" width="6.0" height="70.40" fill="#000000"/>
<rect x="56.55" y="453.29" width="6.0" height="54.21" fill="#FF3C3F"/>
<line x1="59.55" y1="453.29" x2="59.55" y2="452.40" stroke="#333" stroke-width="0.7"/>
<line x1="57.85" y1="452.40" x2="61.25" y2="452.40" stroke="#333" stroke-width="0.8"/>
<text x="59.55" y="452.60" text-anchor="middle" class="st">*</text>
<rect x="65.20" y="432.88" width="6.0" height="74.62" fill="#FFA4A8"/>
<line x1="68.20" y1="432.88" x2="68.20" y2="430.10" stroke="#333" stroke-width="0.7"/>
<line x1="66.50" y1="430.10" x2="69.90" y2="430.10" stroke="#333" stroke-width="0.8"/>
<rect x="73.85" y="447.24" width="6.0" height="60.26" fill="#FF9D2E"/>
<line x1="76.85" y1="447.24" x2="76.85" y2="446.00" stroke="#333" stroke-width="0.7"/>
<line x1="75.15" y1="446.00" x2="78.55" y2="446.00" stroke="#333" stroke-width="0.8"/>
<text x="76.85" y="446.20" text-anchor="middle" class="st">*</text>
<line x1="103.1" y1="507.5" x2="103.1" y2="510.5" stroke="#000" stroke-width="1.2"/>
<rect x="87.70" y="437.10" width="6.0" height="70.40" fill="#000000"/>
<rect x="96.35" y="460.61" width="6.0" height="46.89" fill="#FF3C3F"/>
<line x1="99.35" y1="460.61" x2="99.35" y2="458.90" stroke="#333" stroke-width="0.7"/>
<line x1="97.65" y1="458.90" x2="101.05" y2="458.90" stroke="#333" stroke-width="0.8"/>
<text x="99.35" y="459.10" text-anchor="middle" class="st">*</text>
<rect x="105.00" y="465.96" width="6.0" height="41.54" fill="#FFA4A8"/>
<line x1="108.00" y1="465.96" x2="108.00" y2="463.60" stroke="#333" stroke-width="0.7"/>
<line x1="106.30" y1="463.60" x2="109.70" y2="463.60" stroke="#333" stroke-width="0.8"/>
<text x="108.00" y="463.80" text-anchor="middle" class="st">*</text>
<rect x="113.65" y="468.08" width="6.0" height="39.42" fill="#FF9D2E"/>
<line x1="116.65" y1="468.08" x2="116.65" y2="466.50" stroke="#333" stroke-width="0.7"/>
<line x1="114.95" y1="466.50" x2="118.35" y2="466.50" stroke="#333" stroke-width="0.8"/>
<text x="116.65" y="466.70" text-anchor="middle" class="st">*</text>
<line x1="142.89999999999998" y1="507.5" x2="142.89999999999998" y2="510.5" stroke="#000" stroke-width="1.2"/>
<rect x="127.50" y="437.10" width="6.0" height="70.40" fill="#000000"/>
<rect x="136.15" y="462.80" width="6.0" height="44.70" fill="#FF3C3F"/>
<line x1="139.15" y1="462.80" x2="139.15" y2="461.40" stroke="#333" stroke-width="0.7"/>
<line x1="137.45" y1="461.40" x2="140.85" y2="461.40" stroke="#333" stroke-width="0.8"/>
<text x="139.15" y="461.60" text-anchor="middle" class="st">*</text>
<rect x="144.80" y="467.58" width="6.0" height="39.92" fill="#FFA4A8"/>
<line x1="147.80" y1="467.58" x2="147.80" y2="465.50" stroke="#333" stroke-width="0.7"/>
<line x1="146.10" y1="465.50" x2="149.50" y2="465.50" stroke="#333" stroke-width="0.8"/>
<text x="147.80" y="465.70" text-anchor="middle" class="st">*</text>
<rect x="153.45" y="455.69" width="6.0" height="51.81" fill="#FF9D2E"/>
<line x1="156.45" y1="455.69" x2="156.45" y2="447.90" stroke="#333" stroke-width="0.7"/>
<line x1="154.75" y1="447.90" x2="158.15" y2="447.90" stroke="#333" stroke-width="0.8"/>
<text x="156.45" y="448.10" text-anchor="middle" class="st">*</text>
<line x1="182.7" y1="507.5" x2="182.7" y2="510.5" stroke="#000" stroke-width="1.2"/>
<rect x="167.30" y="437.10" width="6.0" height="70.40" fill="#000000"/>
<rect x="175.95" y="444.49" width="6.0" height="63.01" fill="#FF3C3F"/>
<line x1="178.95" y1="444.49" x2="178.95" y2="431.30" stroke="#333" stroke-width="0.7"/>
<line x1="177.25" y1="431.30" x2="180.65" y2="431.30" stroke="#333" stroke-width="0.8"/>
<rect x="184.60" y="463.43" width="6.0" height="44.07" fill="#FFA4A8"/>
<line x1="187.60" y1="463.43" x2="187.60" y2="452.70" stroke="#333" stroke-width="0.7"/>
<line x1="185.90" y1="452.70" x2="189.30" y2="452.70" stroke="#333" stroke-width="0.8"/>
<text x="187.60" y="452.90" text-anchor="middle" class="st">*</text>
<rect x="193.25" y="479.69" width="6.0" height="27.81" fill="#FF9D2E"/>
<line x1="196.25" y1="479.69" x2="196.25" y2="470.90" stroke="#333" stroke-width="0.7"/>
<line x1="194.55" y1="470.90" x2="197.95" y2="470.90" stroke="#333" stroke-width="0.8"/>
<text x="196.25" y="471.10" text-anchor="middle" class="st">*</text>
<text x="123.7" y="389.5" text-anchor="middle" class="ti">SCD</text>
<text transform="translate(21.7,449.5) rotate(-90)" text-anchor="middle" class="yls" style="font-size:7.3px" textLength="65" lengthAdjust="spacingAndGlyphs">Relative quantity (%)</text>
<rect x="376.6" y="178.2" width="12.8" height="4.5" fill="#000000"/>
<text x="394.9" y="182.7" class="lg">0h</text>
<rect x="376.6" y="190.04999999999998" width="12.8" height="4.5" fill="#FF3C3F"/>
<text x="394.9" y="194.54999999999998" class="lg">3h</text>
<rect x="376.6" y="201.89999999999998" width="12.8" height="4.5" fill="#FFA4A8"/>
<text x="394.9" y="206.39999999999998" class="lg">6h</text>
<rect x="376.6" y="213.75" width="12.8" height="4.5" fill="#FF9D2E"/>
<text x="394.9" y="218.25" class="lg">12h</text>
<rect x="376.6" y="225.6" width="12.8" height="4.5" fill="#FFC65C"/>
<text x="394.9" y="230.1" class="lg">24h</text>
<rect x="227.1" y="392.2" width="12.8" height="4.5" fill="#000000"/>
<text x="245.6" y="396.7" class="lg">0h</text>
<rect x="227.1" y="403.9" width="12.8" height="4.5" fill="#FF3C3F"/>
<text x="245.6" y="408.4" class="lg">3h</text>
<rect x="227.1" y="415.59999999999997" width="12.8" height="4.5" fill="#FFA4A8"/>
<text x="245.6" y="420.09999999999997" class="lg">6h</text>
<rect x="227.1" y="427.29999999999995" width="12.8" height="4.5" fill="#FF9D2E"/>
<text x="245.6" y="431.79999999999995" class="lg">12h</text>
<text x="6.8" y="10.9" class="pl">(A)</text>
<text x="6.7" y="393.6" class="pl">(B)</text>
<text transform="translate(47.30,148.70) rotate(-45) scale(0.656,1)" text-anchor="end" class="xl" style="font-size:7.8px">MCF7</text>
<text transform="translate(74.65,146.50) rotate(-45) scale(0.754,1)" text-anchor="end" class="xl" style="font-size:7.8px">BT-474</text>
<text transform="translate(99.60,147.30) rotate(-45) scale(0.7842,1)" text-anchor="end" class="xl" style="font-size:7.8px">MDA-MB-453</text>
<text transform="translate(125.65,147.30) rotate(-45) scale(0.7842,1)" text-anchor="end" class="xl" style="font-size:7.8px">MDA-MB-468</text>
<text transform="translate(151.70,147.30) rotate(-45) scale(0.7842,1)" text-anchor="end" class="xl" style="font-size:7.8px">MDA-MB-231</text>
<text transform="translate(181.25,144.70) rotate(-45) scale(0.8369,1)" text-anchor="end" class="xl" style="font-size:7.8px">SUM149P&#160;T</text>
<text transform="translate(245.60,147.10) rotate(-45) scale(0.656,1)" text-anchor="end" class="xl" style="font-size:7.8px">MCF7</text>
<text transform="translate(272.90,144.90) rotate(-45) scale(0.754,1)" text-anchor="end" class="xl" style="font-size:7.8px">BT-474</text>
<text transform="translate(297.80,145.70) rotate(-45) scale(0.7842,1)" text-anchor="end" class="xl" style="font-size:7.8px">MDA-MB-453</text>
<text transform="translate(323.80,145.70) rotate(-45) scale(0.7842,1)" text-anchor="end" class="xl" style="font-size:7.8px">MDA-MB-468</text>
<text transform="translate(349.80,145.70) rotate(-45) scale(0.7842,1)" text-anchor="end" class="xl" style="font-size:7.8px">MDA-MB-231</text>
<text transform="translate(379.30,143.10) rotate(-45) scale(0.8369,1)" text-anchor="end" class="xl" style="font-size:7.8px">SUM149P&#160;T</text>
<text transform="translate(49.50,336.20) rotate(-45) scale(0.656,1)" text-anchor="end" class="xl" style="font-size:7.8px">MCF7</text>
<text transform="translate(76.80,334.00) rotate(-45) scale(0.754,1)" text-anchor="end" class="xl" style="font-size:7.8px">BT-474</text>
<text transform="translate(101.70,334.80) rotate(-45) scale(0.7842,1)" text-anchor="end" class="xl" style="font-size:7.8px">MDA-MB-453</text>
<text transform="translate(127.70,334.80) rotate(-45) scale(0.7842,1)" text-anchor="end" class="xl" style="font-size:7.8px">MDA-MB-468</text>
<text transform="translate(153.70,334.80) rotate(-45) scale(0.7842,1)" text-anchor="end" class="xl" style="font-size:7.8px">MDA-MB-231</text>
<text transform="translate(183.20,332.20) rotate(-45) scale(0.8369,1)" text-anchor="end" class="xl" style="font-size:7.8px">SUM149P&#160;T</text>
<text transform="translate(245.90,335.00) rotate(-45) scale(0.656,1)" text-anchor="end" class="xl" style="font-size:7.8px">MCF7</text>
<text transform="translate(273.45,332.80) rotate(-45) scale(0.754,1)" text-anchor="end" class="xl" style="font-size:7.8px">BT-474</text>
<text transform="translate(298.60,333.60) rotate(-45) scale(0.7842,1)" text-anchor="end" class="xl" style="font-size:7.8px">MDA-MB-453</text>
<text transform="translate(324.85,333.60) rotate(-45) scale(0.7842,1)" text-anchor="end" class="xl" style="font-size:7.8px">MDA-MB-468</text>
<text transform="translate(351.10,333.60) rotate(-45) scale(0.7842,1)" text-anchor="end" class="xl" style="font-size:7.8px">MDA-MB-231</text>
<text transform="translate(380.85,331.00) rotate(-45) scale(0.8369,1)" text-anchor="end" class="xl" style="font-size:7.8px">SUM149P&#160;T</text>
<text transform="translate(62.30,522.20) rotate(-45) scale(0.6232,1)" text-anchor="end" class="xl" style="font-size:7.8px">MCF7</text>
<text transform="translate(103.40,520.00) rotate(-45) scale(0.7163,1)" text-anchor="end" class="xl" style="font-size:7.8px">BT-474</text>
<text transform="translate(142.10,520.80) rotate(-45) scale(0.745,1)" text-anchor="end" class="xl" style="font-size:7.8px">MDA-MB-453</text>
<text transform="translate(185.40,518.20) rotate(-45) scale(0.7951,1)" text-anchor="end" class="xl" style="font-size:7.8px">SUM149P&#160;T</text>
</svg>
</body></html>
